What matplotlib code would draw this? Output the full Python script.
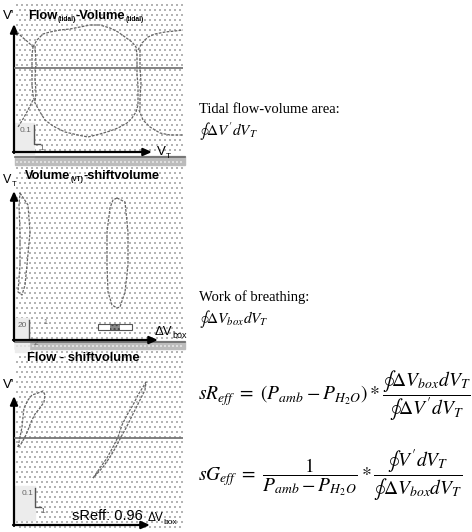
import matplotlib
matplotlib.use("Agg")
import matplotlib.pyplot as plt
import numpy as np
from matplotlib.patches import Rectangle

# loops, in screen units relative to each panel's origin
# panel 1: flow vs tidal volume (y = 0 is the zero-flow line)
fv_loop_x = [19, 23, 29, 36, 46, 56, 66, 76, 86, 96, 104, 111, 118, 122, 123,
             123, 123, 124, 124, 124, 122,
             118, 113, 104, 96, 86, 74, 64, 51, 39, 31, 26, 21,
             19, 18, 18, 18, 18, 19]
fv_loop_y = [21, 28, 34, 36, 38, 39, 41, 43, 43, 40, 36, 31, 26, 21, 13,
             3, -7, -17, -27, -37, -44,
             -50, -55, -60, -63, -66, -69, -67, -64, -58, -52, -44, -35,
             -27, -17, -7, 3, 13, 21]
fv_left2_x = [21, 22, 21, 22, 21]
fv_left2_y = [22, 5, -10, -25, -33]
fv_right2_x = [126, 126, 127, 126, 126]
fv_right2_y = [18, 0, -15, -30, -42]
fv_prev_up_x = [3, 8, 14, 19]
fv_prev_up_y = [36, 31, 26, 21]
fv_prev_dn_x = [19, 14, 9, 4]
fv_prev_dn_y = [-32, -42, -51, -59]
fv_next_up_x = [124, 128, 134, 141, 151, 161, 169]
fv_next_up_y = [18, 25, 31, 34, 36, 37, 38]
fv_next_dn_x = [125, 129, 136, 146, 156, 169]
fv_next_dn_y = [-42, -52, -59, -65, -67, -67]

# panel 2: tidal volume vs shift volume
vs_left_x = [6, 14, 16, 13, 11, 8, 4, 6, 6, 5, 6]
vs_left_y = [148, 136, 109, 76, 56, 46, 49, 76, 109, 136, 148]
vs_loop_x = [103, 111, 114, 114, 111, 106, 103, 98, 94, 93, 93, 96, 99, 103]
vs_loop_y = [143, 139, 109, 76, 49, 34, 33, 36, 49, 76, 109, 133, 141, 143]

# panel 3: flow vs shift volume
fs_left_x = [4, 6, 8, 9, 10, 14, 18, 24, 29, 31, 30, 26, 21, 17, 14, 11, 7, 4]
fs_left_y = [-9, 1, 11, 21, 30, 38, 43, 45, 47, 43, 36, 30, 24, 16, 8, 1, -6, -9]
fs_loop_x = [79, 86, 93, 99, 104, 108, 113, 119, 124, 129, 132,
             131, 127, 122, 117, 112, 107, 102, 96, 89, 82, 79]
fs_loop_y = [-40, -30, -20, -9, 1, 13, 23, 33, 43, 51, 56,
             48, 40, 30, 20, 10, 1, -9, -19, -29, -37, -40]

sreff = 0.96

W, H = 472, 532
LOOP = dict(color="#666666", lw=0.9, ls=(0, (2.2, 1.0)))
SANS = "Liberation Sans"
SERIF = "Liberation Serif"

fig = plt.figure(figsize=(W / 100, H / 100), dpi=100)
base = fig.add_axes([0, 0, 1, 1])
base.set_xlim(0, W)
base.set_ylim(H, 0)
base.axis("off")


def dotted_bg(x0, top, x1, bottom):
    pts = []
    for i, yy in enumerate(np.arange(top + 2, bottom, 5)):
        off = 2.5 if i % 2 else 0
        for xx in np.arange(x0 + 2 + off, x1, 5):
            pts.append((xx, yy))
    pts = np.array(pts)
    base.scatter(pts[:, 0], pts[:, 1], s=1.0, marker="s", color="#b4b4b4",
                 linewidths=0, zorder=1)


def stripe(top, bottom):
    base.add_patch(Rectangle((15, top), 170, bottom - top, color="#bcbcbc", zorder=2))
    base.plot([15, 185], [top + 0.5, top + 0.5], color="#6a6a6a", lw=1.2, zorder=3)
    xs = np.arange(17, 184, 4)
    base.scatter(xs, np.full(len(xs), (top + bottom) / 2 + 1), s=0.8, marker="s",
                 color="#dedede", linewidths=0, zorder=3)


def make_panel(x0, top, x1, bottom, ox, oy):
    ax = fig.add_axes([x0 / W, 1 - bottom / H, (x1 - x0) / W, (bottom - top) / H])
    ax.set_xlim(x0 - ox, x1 - ox)
    ax.set_ylim(oy - bottom, oy - top)
    ax.patch.set_alpha(0)
    ax.axis("off")
    return ax


def axes_arrows(y_tip, y_axis, x_tip):
    base.annotate("", xy=(14, y_tip), xytext=(14, y_axis + 1),
                  arrowprops=dict(arrowstyle="-|>,head_length=0.5,head_width=0.22",
                                  color="black", lw=1.6, shrinkA=0, shrinkB=0), zorder=6)
    base.annotate("", xy=(x_tip, y_axis), xytext=(13, y_axis),
                  arrowprops=dict(arrowstyle="-|>,head_length=0.5,head_width=0.22",
                                  color="black", lw=1.6, shrinkA=0, shrinkB=0), zorder=6)


def put_parts(x, y, parts):
    r = fig.canvas.get_renderer()
    for s, dy, kw in parts:
        t = base.text(x, y + dy, s, va="baseline", ha="left", zorder=7, **kw)
        bb = t.get_window_extent(r)
        x = base.transData.inverted().transform((bb.x1, bb.y0))[0]


def scale_mark(x, y, top_lbl, side_lbl, sup=None):
    base.add_patch(Rectangle((15, y - 8), x - 15, 34, color="#ececec", zorder=2))
    base.plot([x, x, x + 6], [y - 6, y + 13, y + 13], color="#555555", lw=1.0, zorder=4)
    base.text(x - 2, y + 1, top_lbl, ha="right", va="baseline", fontsize=6,
              family=SANS, color="#666666", zorder=5)
    base.text(x + 5, y + 19, side_lbl, ha="left", va="baseline", fontsize=6,
              family=SANS, color="#666666", zorder=5)
    if sup:
        base.text(x + 14, y - 2, sup, ha="left", va="baseline", fontsize=5,
                  family=SANS, color="#666666", zorder=5)


# ---- panel 1: Flow(tidal)-Volume(tidal)
dotted_bg(15, 3, 183, 152)
stripe(156, 165)
scale_mark(34, 131, "0.1", "1")
ax1 = make_panel(14, 3, 183, 153, 14, 68)
ax1.axhline(0, color="#6c6c6c", lw=1.2, zorder=2)
ax1.plot(fv_loop_x, fv_loop_y, **LOOP)
ax1.plot(fv_left2_x, fv_left2_y, **LOOP)
ax1.plot(fv_right2_x, fv_right2_y, **LOOP)
for xs, ys in [(fv_prev_up_x, fv_prev_up_y), (fv_prev_dn_x, fv_prev_dn_y),
               (fv_next_up_x, fv_next_up_y), (fv_next_dn_x, fv_next_dn_y)]:
    ax1.plot(xs, ys, **LOOP)
axes_arrows(24, 152, 152)
base.text(3, 19, "V'", fontsize=9.5, family=SANS, va="baseline", zorder=7)
put_parts(28, 19, [("Flow", 0, dict(fontsize=9.3, family=SANS, weight="bold")),
                   ("(tidal)", 2, dict(fontsize=4.8, family=SANS, weight="bold")),
                   ("-Volume", 0, dict(fontsize=9.3, family=SANS, weight="bold")),
                   ("(tidal)", 2, dict(fontsize=4.8, family=SANS, weight="bold"))])
put_parts(157, 155, [("V", 0, dict(fontsize=9.5, family=SANS)),
                     ("T", 3, dict(fontsize=6, family=SANS))])

# ---- panel 2: Volume(VT)-shiftvolume
dotted_bg(15, 166, 183, 340)
stripe(341, 349)
scale_mark(29, 326, "20", "2", sup="1")
base.add_patch(Rectangle((98, 324), 34, 6, facecolor="white", edgecolor="#555555",
                         lw=0.8, zorder=4))
base.add_patch(Rectangle((110, 324.5), 10, 5, facecolor="#8a8a8a", hatch="....",
                         edgecolor="#444444", lw=0, zorder=5))
ax2 = make_panel(14, 166, 183, 341, 14, 341)
ax2.plot(vs_left_x, vs_left_y, **LOOP)
ax2.plot(vs_loop_x, vs_loop_y, **LOOP)
axes_arrows(191, 340, 158)
put_parts(3, 183, [("V", 0, dict(fontsize=9, family=SANS)),
                   ("T", 3, dict(fontsize=5.5, family=SANS))])
put_parts(25, 179, [("Volume", 0, dict(fontsize=9.3, family=SANS, weight="bold")),
                    ("(VT)", 2, dict(fontsize=4.8, family=SANS, weight="bold")),
                    ("-shiftvolume", 0, dict(fontsize=9.3, family=SANS, weight="bold"))])
put_parts(155, 335, [("\u0394V", 0, dict(fontsize=9.5, family=SANS)),
                     ("box", 3, dict(fontsize=6.5, family=SANS))])

# ---- panel 3: Flow - shiftvolume
dotted_bg(15, 350, 183, 532)
scale_mark(35, 494, "0.1", "1")
ax3 = make_panel(14, 350, 183, 525, 14, 438)
ax3.axhline(0, color="#6c6c6c", lw=1.2, zorder=2)
ax3.plot(fs_left_x, fs_left_y, **LOOP)
ax3.plot(fs_loop_x, fs_loop_y, **LOOP)
axes_arrows(396, 525, 150)
base.text(3, 388, "V'", fontsize=9.5, family=SANS, va="baseline", zorder=7)
base.text(27, 361, "Flow - shiftvolume", fontsize=9.3, family=SANS, weight="bold",
          va="baseline", zorder=7)
base.text(72, 520, f"sReff: {sreff:.2f}", fontsize=10.5, family=SANS,
          va="baseline", zorder=7)
put_parts(148, 521, [("\u0394V", 0, dict(fontsize=8.5, family=SANS)),
                     ("box", 3, dict(fontsize=6, family=SANS))])

# ---- right side: definitions
base.text(199, 113, "Tidal flow-volume area:", fontsize=10.5, family=SERIF,
          va="baseline")
base.text(199, 131, r"$\oint \Delta V' dV_T$", fontsize=11, va="center",
          math_fontfamily="stix")
base.text(199, 301, "Work of breathing:", fontsize=10.5, family=SERIF,
          va="baseline")
base.text(199, 319, r"$\oint \Delta V_{box} dV_T$", fontsize=11, va="center",
          math_fontfamily="stix")
base.text(198, 396, r"$sR_{eff}\ =\ (P_{amb} - P_{H_2O}) * \dfrac{\oint \Delta V_{box} dV_T}{\oint \Delta V' dV_T}$",
          fontsize=14, va="center", math_fontfamily="stix")
base.text(198, 476, r"$sG_{eff}\ =\ \dfrac{1}{P_{amb} - P_{H_2O}} * \dfrac{\oint V' dV_T}{\oint \Delta V_{box} dV_T}$",
          fontsize=14, va="center", math_fontfamily="stix")

fig.savefig("out.png", dpi=100)
